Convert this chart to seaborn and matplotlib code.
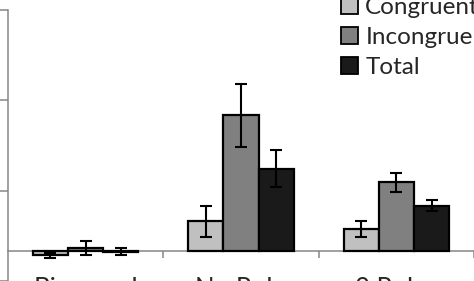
import matplotlib
matplotlib.use("Agg")
import matplotlib.pyplot as plt
import seaborn as sns
import pandas as pd
import numpy as np

categories = ["Bimanual", "No Rule", "2 Rules"]
conditions = ["Congruent", "Incongruent", "Total"]
congruent = [-1.5, 9.8, 7.2]
incongruent = [1.0, 45.0, 22.8]
total = [-0.3, 27.3, 15.0]
congruent_err = [0.8, 5.2, 2.6]
incongruent_err = [2.3, 10.4, 3.2]
total_err = [1.2, 6.2, 1.9]
y_ticks = [-10, 20, 50, 80]

values = {"Congruent": congruent, "Incongruent": incongruent, "Total": total}
errors = {"Congruent": congruent_err, "Incongruent": incongruent_err, "Total": total_err}
rows = []
for cond in conditions:
    for cat, v, e in zip(categories, values[cond], errors[cond]):
        rows.append({"category": cat, "condition": cond, "value": v, "err": e})
df = pd.DataFrame(rows)

sns.set_style("white")
plt.rcParams['font.family'] = ['Lato', 'DejaVu Sans']

AX_GRAY = "#868686"
fig = plt.figure(figsize=(4.74, 2.81), dpi=100)
ax = fig.add_axes([8 / 474, 0.0, 466 / 474, 271 / 281])

palette = {"Congruent": "#c0c0c0", "Incongruent": "#808080", "Total": "#1a1a1a"}
sns.barplot(data=df, x="category", y="value", hue="condition", order=categories,
            hue_order=conditions, palette=palette, width=0.68, gap=0,
            errorbar=None, edgecolor="black", linewidth=1.6, saturation=1,
            ax=ax, legend=True)

# error bars at the bar centres produced by seaborn
for cond, container in zip(conditions, ax.containers):
    xs = [p.get_x() + p.get_width() / 2 for p in container]
    sub = df[df.condition == cond].set_index("category").loc[categories]
    ax.errorbar(xs, sub["value"].values, yerr=sub["err"].values, fmt="none",
                ecolor="black", elinewidth=1.5, capsize=4.3, capthick=1.5, zorder=5)

ax.set_ylim(-10, 80)
ax.set_xlim(-0.5, 2.5)
ax.set_yticks(y_ticks)
ax.tick_params(axis="y", which="major", direction="out", length=5.8, width=1.1,
               color=AX_GRAY, labelleft=False, left=True)
ax.set_xticks(range(len(categories)))
ax.set_xticklabels(categories)
ax.set_xticks([0.5, 1.5, 2.5], minor=True)
ax.tick_params(axis="x", which="major", length=0, pad=19, labelsize=18.5)
ax.tick_params(axis="x", which="minor", direction="out", length=5, width=1.1,
               color=AX_GRAY, bottom=True)
ax.set_xlabel("")
ax.set_ylabel("")

for s in ["top", "right"]:
    ax.spines[s].set_visible(False)
ax.spines["left"].set_color(AX_GRAY)
ax.spines["left"].set_linewidth(1.1)
ax.spines["bottom"].set_color(AX_GRAY)
ax.spines["bottom"].set_linewidth(1.1)
ax.spines["bottom"].set_position(("data", 0))
ax.spines["bottom"].set_zorder(0.5)

ax.get_legend().remove()
handles = [plt.Rectangle((0, 0), 1, 1, facecolor=palette[c], edgecolor="black", linewidth=1.3)
           for c in conditions]
fig.legend(handles, conditions, loc="upper left", bbox_to_anchor=(341 / 474, 1 + 3 / 281),
           frameon=False, fontsize=17.5, handlelength=0.7, handleheight=0.7,
           handletextpad=0.3, labelspacing=0.36, borderpad=0, borderaxespad=0)

fig.savefig("out.png", dpi=100)
